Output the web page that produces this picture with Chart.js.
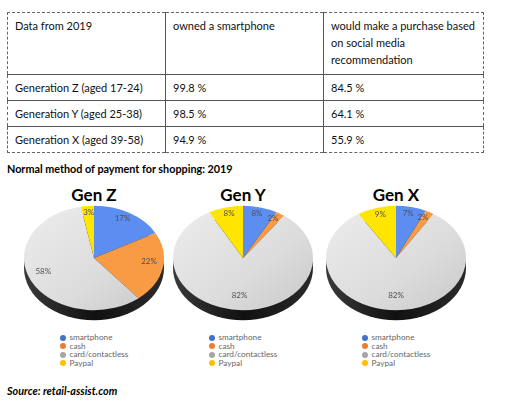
<!DOCTYPE html>
<html>
<head>
<meta charset="utf-8">
<script src="https://cdn.jsdelivr.net/npm/chart.js@4"></script>
<style>
  html, body { margin:0; padding:0; background:#fff; }
  body { width:509px; height:414px; position:relative; overflow:hidden; font-family: Lato, "Open Sans", sans-serif; color:#111; }
  table.data { position:absolute; left:7px; top:12px; width:476px; border-collapse:collapse; table-layout:fixed; font-size:11px; border:1px dashed #666; color:#111; }
  table.data td { border:1px solid #555; padding:0 7px; height:25px; vertical-align:middle; line-height:17px; }
  table.data tr:first-child td { height:57px; vertical-align:top; padding-top:4px; }
  table.data tr:first-child td { border-top:1px dashed #666; }
  table.data tr:last-child td { border-bottom:1px dashed #666; }
  table.data td:first-child { border-left:1px dashed #666; }
  table.data td:last-child { border-right:1px dashed #666; }
  .subtitle { position:absolute; left:7px; top:162px; font-size:10.8px; font-weight:bold; white-space:nowrap; color:#000; }
  .gtitle { position:absolute; width:120px; text-align:center; font-size:17px; font-weight:bold; top:184px; color:#000; }
  .pie { position:absolute; width:144px; height:140px; }
  .legend { position:absolute; top:333px; font-size:8.2px; color:#666; line-height:8.6px; }
  .legend div { white-space:nowrap; }
  .legend span.dot { display:inline-block; width:6px; height:6px; border-radius:50%; margin-right:3.5px; vertical-align:-0.5px; }
  .source { position:absolute; left:7px; top:384px; font-size:10.8px; font-weight:bold; font-style:italic; color:#000; }
</style>
</head>
<body>
<table class="data" id="tbl"></table>
<div class="subtitle" id="subtitle"></div>
<div id="pies"></div>
<div class="source">Source: retail-assist.com</div>
<script>
// ---- data ----
const tableHeader = ['Data from 2019', 'owned a smartphone', 'would make a purchase based<br>on social media<br>recommendation'];
const rowLabels = ['Generation Z (aged 17-24)', 'Generation Y (aged 25-38)', 'Generation X (aged 39-58)'];
const ownedSmartphone = [99.8, 98.5, 94.9];
const socialPurchase = [84.5, 64.1, 55.9];

const chartTitle = 'Normal method of payment for shopping: 2019';
const methods = ['smartphone', 'cash', 'card/contactless', 'Paypal'];
const generations = ['Gen Z', 'Gen Y', 'Gen X'];
const genZ = [17, 22, 58, 3];
const genY = [8, 2, 82, 8];
const genX = [7, 2, 82, 9];
const sliceColors = ['#5B8EF0', '#F99A45', '#DADADA', '#FFE500'];
const legendColors = ['#4472C4', '#ED7D31', '#A5A5A5', '#FFC000'];

// ---- table ----
const tbl = document.getElementById('tbl');
let html = '<colgroup><col style="width:158px"><col style="width:158px"><col style="width:160px"></colgroup>';
html += '<tr>' + tableHeader.map(h => '<td>' + h + '</td>').join('') + '</tr>';
rowLabels.forEach((r, i) => {
  html += '<tr><td>' + r + '</td><td>' + ownedSmartphone[i].toFixed(1) + ' %</td><td>' + socialPurchase[i].toFixed(1) + ' %</td></tr>';
});
tbl.innerHTML = html;
document.getElementById('subtitle').textContent = chartTitle;

// ---- pies ----
const K = 0.745;   // vertical squash for tilted look
const RIM = 10;    // rim depth
const centersX = [94, 243, 396];
const centerY = 258;
const seriesList = [genZ, genY, genX];

const tiltPlugin = {
  id: 'tilt',
  beforeDatasetsDraw(chart) {
    const ctx = chart.ctx;
    const a = chart.getDatasetMeta(0).data[0];
    const cx = a.x, cy = a.y, r = a.outerRadius;
    // rim
    ctx.save();
    ctx.translate(cx, cy + RIM);
    ctx.scale(1, K);
    ctx.beginPath();
    ctx.arc(0, 0, r, 0, Math.PI * 2);
    const g = ctx.createLinearGradient(-r, 0, r, 0);
    g.addColorStop(0, '#3a3a3a'); g.addColorStop(0.5, '#111'); g.addColorStop(1, '#2a2a2a');
    ctx.fillStyle = g;
    ctx.fill();
    ctx.restore();
    ctx.save();
    ctx.translate(cx, cy);
    ctx.scale(1, K);
    ctx.translate(-cx, -cy);
  },
  afterDatasetsDraw(chart) {
    const ctx = chart.ctx;
    ctx.restore();
    const meta = chart.getDatasetMeta(0);
    const vals = chart.data.datasets[0].data;
    ctx.save();
    ctx.font = '8px Lato, sans-serif';
    ctx.fillStyle = '#505050';
    ctx.textAlign = 'center';
    ctx.textBaseline = 'middle';
    meta.data.forEach((arc, i) => {
      const mid = (arc.startAngle + arc.endAngle) / 2;
      const rr = arc.outerRadius * 0.8;
      const x = arc.x + Math.cos(mid) * rr;
      const y = arc.y + Math.sin(mid) * rr * K - 4;
      ctx.fillText(vals[i] + '%', x, y);
    });
    ctx.restore();
  }
};

const piesDiv = document.getElementById('pies');
generations.forEach((gname, gi) => {
  const t = document.createElement('div');
  t.className = 'gtitle';
  t.style.left = (centersX[gi] - 60) + 'px';
  t.textContent = gname;
  piesDiv.appendChild(t);

  const wrap = document.createElement('div');
  wrap.className = 'pie';
  wrap.style.left = (centersX[gi] - 72) + 'px';
  wrap.style.top = (centerY - 70) + 'px';
  const cv = document.createElement('canvas');
  wrap.appendChild(cv);
  piesDiv.appendChild(wrap);

  const lg = document.createElement('div');
  lg.className = 'legend';
  lg.style.left = (centersX[gi] - 34) + 'px';
  lg.innerHTML = methods.map((m, i) => '<div><span class="dot" style="background:' + legendColors[i] + '"></span>' + m + '</div>').join('');
  piesDiv.appendChild(lg);

  new Chart(cv, {
    type: 'pie',
    data: {
      labels: methods,
      datasets: [{
        data: seriesList[gi],
        backgroundColor: (c) => {
          if (c.dataIndex === 2 && c.chart.chartArea) {
            const ca = c.chart.chartArea;
            const gr = c.chart.ctx.createLinearGradient(ca.left, ca.top, ca.right, ca.bottom);
            gr.addColorStop(0, '#EDEDED');
            gr.addColorStop(0.6, '#DCDCDC');
            gr.addColorStop(1, '#C8C8C8');
            return gr;
          }
          return sliceColors[c.dataIndex];
        },
        borderWidth: 0
      }]
    },
    options: {
      responsive: true,
      maintainAspectRatio: false,
      animation: false,
      layout: { padding: 0 },
      plugins: { legend: { display: false }, tooltip: { enabled: false }, title: { display: false } }
    },
    plugins: [tiltPlugin]
  });
});
</script>
</body>
</html>
